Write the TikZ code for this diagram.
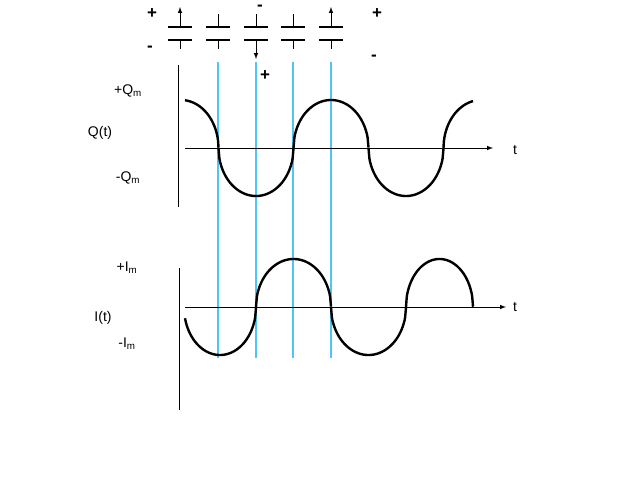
\documentclass[tikz,border=0pt]{standalone}
\usepackage{fontspec}
\setmainfont{Liberation Sans}
\newcommand{\hseg}[6]{% center, radius, from, to, base, sign
  \draw[wave,domain=#3:#4,samples=80,smooth] plot (\x,{#5-#6*48*sqrt(max(0,1-((\x-#1)/#2)^2))});}
\begin{document}
\begin{tikzpicture}[x=1pt,y=-1pt,
  wave/.style={line width=2.4pt},
  ax/.style={line width=1pt},
  cy/.style={cyan!70!white,line width=1.3pt},
  lbl/.style={font=\fontsize{14}{14}\selectfont,inner sep=0pt},
  sgn/.style={font=\bfseries\fontsize{17}{17}\selectfont,inner sep=0pt},
  plate/.style={line width=1.6pt}]
\useasboundingbox[fill=white] (0,0) rectangle (640,480);
% cyan lines
\foreach \x/\n in {218/a,256/b,293/c,331/d}{
  \coordinate (ct\n) at (\x,62); \coordinate (cb\n) at (\x,358);
  \draw[cy] (ct\n) -- (cb\n);}
% capacitors
\foreach \x/\n in {180/1,218/2,256/3,293/4,331/5}{
  \coordinate (t\n) at (\x,14); \coordinate (p\n) at (\x,27);
  \coordinate (q\n) at (\x,40); \coordinate (b\n) at (\x,49);
  \draw[plate] (\x-12,27) -- (\x+12,27); \draw[plate] (\x-12,40) -- (\x+12,40);
  \draw[line width=1pt] (t\n) -- (p\n); \draw[line width=1pt] (q\n) -- (b\n);}
\coordinate (u1) at (180,7); \coordinate (u5) at (331,7); \coordinate (d3) at (256,59);
\draw[-latex,line width=1pt] (t1) -- (u1);
\draw[-latex,line width=1pt] (t5) -- (u5);
\draw[-latex,line width=1pt] (b3) -- (d3);
% signs
\node[sgn] (s1) at (152,14) {+};
\node[sgn] (s2) at (150,49) {-};
\node[sgn] (s3) at (260,8) {-};
\node[sgn] (s4) at (265,76) {+};
\node[sgn] (s5) at (377,14) {+};
\node[sgn] (s6) at (374,58) {-};
% Q plot
\coordinate (qa1) at (178,65); \coordinate (qa2) at (178,207);
\draw[ax] (qa1) -- (qa2);
\coordinate (qh1) at (185,148); \coordinate (qh2) at (493,148);
\draw[ax,-latex] (qh1) -- (qh2);
\hseg{181}{37.5}{185}{218.5}{148}{1}
\hseg{256}{37.5}{218.5}{293.5}{148}{-1}
\hseg{331}{37.5}{293.5}{368.5}{148}{1}
\hseg{406}{37.5}{368.5}{443.5}{148}{-1}
\hseg{481}{37.5}{443.5}{473}{148}{1}
\node[lbl] (qm) at (128,91) {+Q\textsubscript{m}};
\node[lbl] (qt) at (100,133) {Q(t)};
\node[lbl] (qn) at (128,178) {-Q\textsubscript{m}};
\node[lbl] (t1l) at (515,150) {t};
% I plot
\coordinate (ia1) at (179,268); \coordinate (ia2) at (179,410);
\draw[ax] (ia1) -- (ia2);
\coordinate (ih1) at (185,307); \coordinate (ih2) at (506,307);
\draw[ax,-latex] (ih1) -- (ih2);
\hseg{220}{36}{185}{256}{307}{-1}
\hseg{293.5}{37.5}{256}{331}{307}{1}
\hseg{368.5}{37.5}{331}{406}{307}{-1}
\hseg{439.5}{33.5}{406}{473}{307}{1}
\node[lbl] (im) at (127,268) {+I\textsubscript{m}};
\node[lbl] (it) at (103,318) {I(t)};
\node[lbl] (in) at (127,344) {-I\textsubscript{m}};
\node[lbl] (t2l) at (515,307) {t};
\end{tikzpicture}
\end{document}
